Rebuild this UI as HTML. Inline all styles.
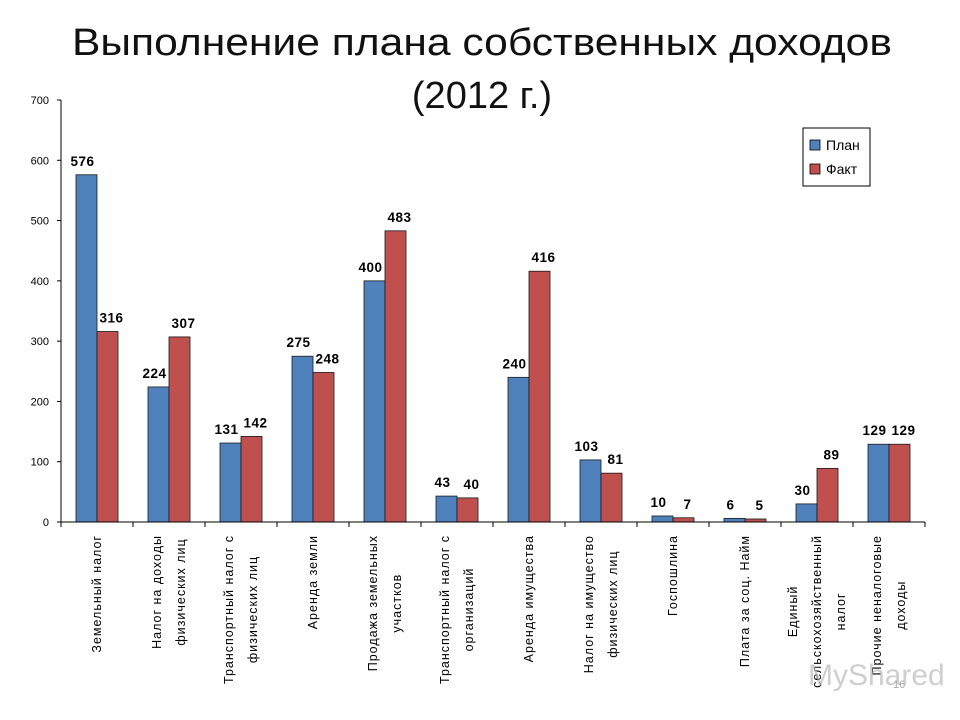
<!DOCTYPE html>
<html><head><meta charset="utf-8"><style>
body{margin:0;background:#fff;}
svg{display:block;font-family:"Liberation Sans",sans-serif;}
</style></head><body>
<svg id="chart" width="960" height="720">
<text x="482" y="55" text-anchor="middle" font-size="38" textLength="820" lengthAdjust="spacingAndGlyphs" fill="#111">Выполнение плана собственных доходов</text>
<text x="482" y="108" text-anchor="middle" font-size="38" fill="#111">(2012 г.)</text>
<g id="plot"></g>
<g>
<rect x="803" y="128" width="67" height="58" fill="#fff" stroke="#000" stroke-width="1"/>
<rect x="810" y="140" width="10" height="10" fill="#4f81bd" stroke="#000" stroke-width="0.8"/>
<text x="826" y="150" font-size="14">План</text>
<rect x="810" y="164" width="10" height="10" fill="#c0504d" stroke="#000" stroke-width="0.8"/>
<text x="826" y="174" font-size="14">Факт</text>
</g>
<text x="808" y="685" font-size="30" fill="#bbb" opacity="0.7">MyShared</text>
<text x="893" y="688" font-size="11" fill="#aaa">16</text>
</svg>
<script>
const categories=[["Земельный налог"],["Налог на доходы","физических лиц"],["Транспортный налог с","физических лиц"],["Аренда земли"],["Продажа земельных","участков"],["Транспортный налог с","организаций"],["Аренда имущества"],["Налог на имущество","физических лиц"],["Госпошлина"],["Плата за соц. Найм"],["Единый","сельскохозяйственный","налог"],["Прочие неналоговые","доходы"]];
const planValues=[576,224,131,275,400,43,240,103,10,6,30,129];
const factValues=[316,307,142,248,483,40,416,81,7,5,89,129];
const yTicks=[0,100,200,300,400,500,600,700];
const NS="http://www.w3.org/2000/svg";
const g=document.getElementById('plot');
const X0=61,X1=925,Y0=522,Y1=100,YMAX=700;
const gw=(X1-X0)/categories.length;
const y=v=>Y0-(v/YMAX)*(Y0-Y1);
const gx=i=>X0+i*gw;
function mk(t,a){const e=document.createElementNS(NS,t);for(const k in a)e.setAttribute(k,a[k]);g.appendChild(e);return e;}
yTicks.forEach(v=>{
 const t=mk('text',{x:X0-12,y:y(v)+4,'text-anchor':'end','font-size':11});
 t.textContent=v;
 
 
 mk('line',{x1:X0-4,x2:X0,y1:y(v),y2:y(v),stroke:'#000'});
});
for(let i=0;i<=categories.length;i++){mk('line',{x1:gx(i),x2:gx(i),y1:Y0,y2:Y0+5,stroke:'#000'});}
const bw=21,off=15;
function bar(i,v,dx,col,name,lo){
 const r=mk('rect',{x:gx(i)+dx,y:y(v),width:bw,height:Y0-y(v),fill:col,stroke:'#1a1a1a','stroke-width':0.8});
 
 
 const t=mk('text',{x:gx(i)+dx+bw/2+lo,y:y(v)-9,'text-anchor':'middle','font-size':13.5,'font-weight':'bold','letter-spacing':'0.5'});
 t.textContent=v;
 
 
}
planValues.forEach((v,i)=>bar(i,v,off,'#4f81bd','bar-plan-'+i,-4));
factValues.forEach((v,i)=>bar(i,v,off+bw,'#c0504d','bar-fact-'+i,4));
mk('line',{x1:X0,x2:X0,y1:Y1,y2:Y0,stroke:'#000'});
mk('line',{x1:X0,x2:X1,y1:Y0,y2:Y0,stroke:'#000'});
categories.forEach((lines,i)=>{
 const cx=gx(i)+gw/2;
 const n=lines.length,ls=24;
 const els=lines.map(s=>{const t=mk('text',{'font-size':12.5,'letter-spacing':'1','text-anchor':'middle'});t.textContent=s;
  
  return t;});
 const maxLen=Math.max(...els.map(e=>e.getComputedTextLength()));
 const cy=535+maxLen/2;
 els.forEach((t,k)=>{
  const lx=cx+(k-(n-1)/2)*ls+4;
  t.setAttribute('x',0);t.setAttribute('y',0);
  t.setAttribute('transform',`translate(${lx},${cy}) rotate(-90)`);
 });
});
</script>
</body></html>
